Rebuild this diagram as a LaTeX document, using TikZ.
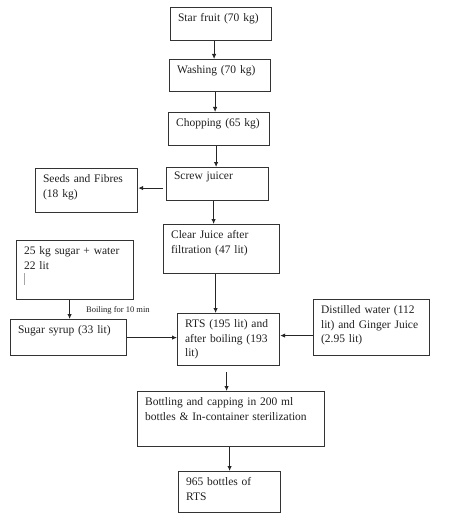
\documentclass[tikz,border=0pt]{standalone}
\usepackage{fontspec}
\setmainfont{Liberation Serif}
\usepackage{tikz}
\usetikzlibrary{arrows.meta, positioning, calc}
\colorlet{boxline}{black!80}
\colorlet{boxtext}{black!88}
\tikzset{stage/.style={draw=boxline, line width=1.2pt, rectangle, anchor=north west, align=left, inner xsep=7.5pt, inner ysep=3pt, text height=11pt, text=boxtext, font=\fontsize{11.5}{14.5}\selectfont}}
\tikzset{flow/.style={draw=black!85, line width=0.9pt, -{Latex[length=5pt, width=4.5pt]}}}
\tikzset{note/.style={anchor=base west, inner sep=0pt, text=boxtext, font=\fontsize{8.5}{10}\selectfont}}

\begin{document}
\begin{tikzpicture}[x=1pt, y=-1pt]
            \useasboundingbox (0, 0) rectangle (474, 524);

            \node [stage, text width=86pt, text depth=16pt] (star) at (170, 7) {Star fruit (70 kg)};
            \node [stage, text width=86pt, text depth=15pt] (wash) at (169, 59) {Washing (70 kg)};
            \node [stage, text width=86pt, text depth=16pt] (chop) at (168, 112) {Chopping (65 kg)};
            \node [stage, text width=87pt, text height=9pt, text depth=18pt] (screw) at (166, 167) {Screw juicer};
            \node [stage, text width=87pt, text depth=27pt] (seeds) at (35, 168) {Seeds and Fibres\\(18 kg)};
            \node [stage, text width=101pt, text depth=32pt] (clear) at (163, 224) {Clear Juice after\\filtration (47 lit)};
            \node [stage, text width=102pt, text depth=42pt] (sugar) at (16, 240) {25 kg sugar + water\\22 lit};
            \node [stage, text width=101pt, text depth=19pt] (syrup) at (10, 319) {Sugar syrup (33 lit)};
            \node [stage, text width=87pt, text depth=35pt] (rts) at (177, 313) {RTS (195 lit) and\\after boiling (193\\lit)};
            \node [stage, text width=101pt, text depth=39pt] (water) at (313, 299) {Distilled water (112\\lit) and Ginger Juice\\(2.95 lit)};
            \node [stage, text width=172pt, text depth=38pt] (bottle) at (137, 391) {Bottling and capping in 200 ml\\bottles \& In-container sterilization};
            \node [stage, text width=87pt, text depth=24pt] (final) at (178, 471) {965 bottles of\\RTS};

            \node [note] (boil) at (86, 312) {Boiling for 10 min};

            % cursor mark left in the sugar box
            \draw [black!35, line width=0.6pt] (24, 273) -- (24, 285);

            \draw [flow] ([xshift=-7pt]star.south) -- ([xshift=-7pt]star.south |- wash.north);
            \draw [flow] ([xshift=-5pt]wash.south) -- ([xshift=-5pt]wash.south |- chop.north);
            \draw [flow] ([xshift=-3pt]chop.south) -- ([xshift=-3pt]chop.south |- screw.north);
            \draw [flow] ([xshift=-3pt, yshift=-4pt]screw.west) -- ([yshift=-4pt]screw.west -| seeds.east);
            \draw [flow] ([xshift=-4pt]screw.south) -- ([xshift=-4pt]screw.south |- clear.north);
            \draw [flow] ([xshift=-6pt]clear.south) -- ([xshift=-6pt]clear.south |- rts.north);
            \draw [flow] ([xshift=-5.5pt]sugar.south) -- ([xshift=-5.5pt]sugar.south |- syrup.north);
            \draw [flow] (syrup.east) -- (syrup.east -| rts.west);
            \draw [flow] ([yshift=-8pt]water.west) -- ([yshift=-8pt]water.west -| rts.east);
            \draw [flow] ([xshift=-2pt, yshift=-6pt]rts.south) -- ([xshift=-2pt]rts.south |- bottle.north);
            \draw [flow] ([xshift=-1.5pt]bottle.south) -- ([xshift=-1.5pt]bottle.south |- final.north);
        \end{tikzpicture}
\end{document}
